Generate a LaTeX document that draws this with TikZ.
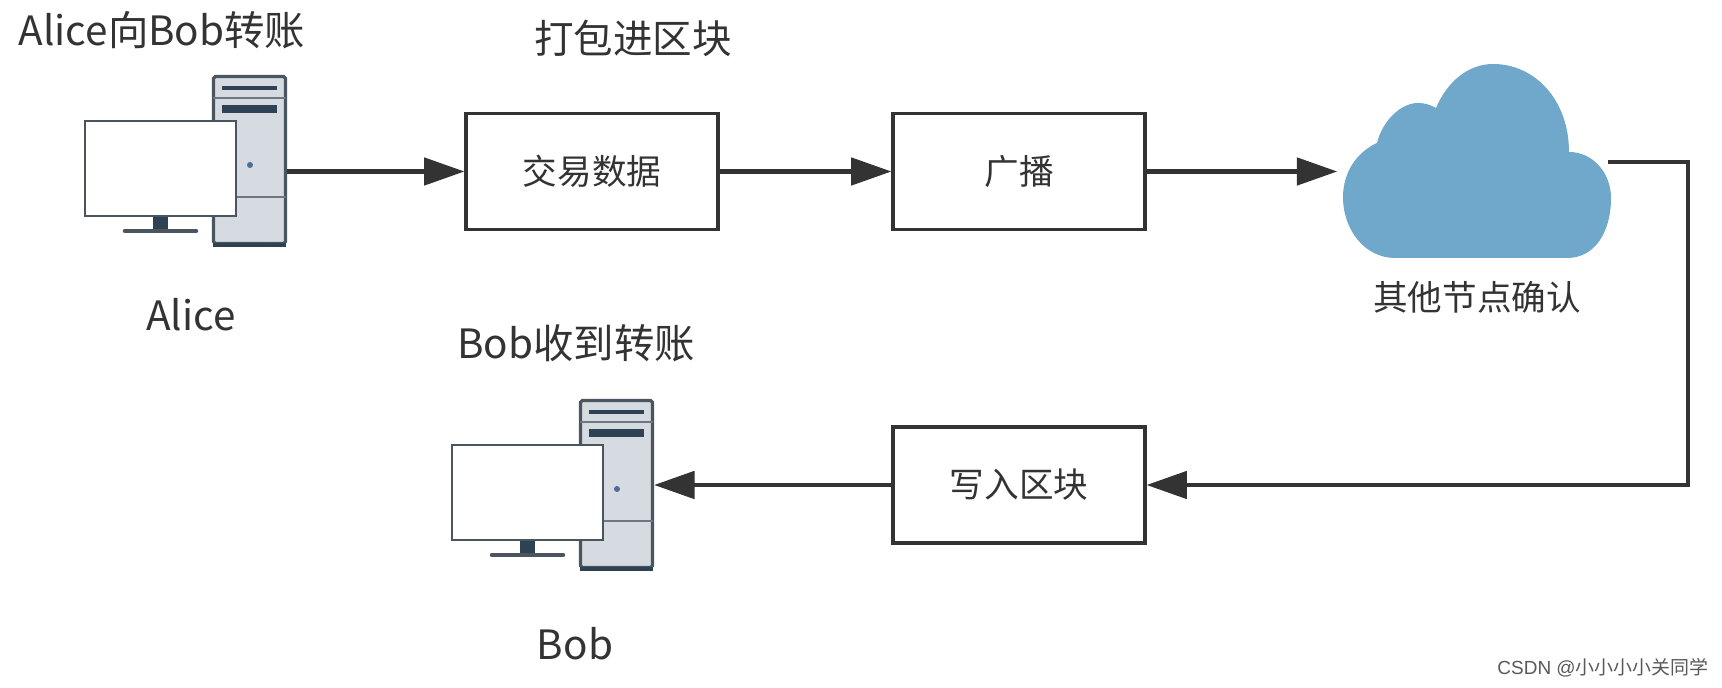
\documentclass[tikz,border=0pt]{standalone}
\usepackage{fontspec}
\setmainfont{Noto Sans CJK SC}
\newfontfamily\markfont{Liberation Sans}
\usetikzlibrary{arrows.meta}
\definecolor{ink}{HTML}{333333}
\definecolor{towerfill}{HTML}{D5DBE1}
\definecolor{slotcol}{HTML}{2F4254}
\definecolor{framecol}{HTML}{4A5560}
\definecolor{dotcol}{HTML}{4A6E96}
\definecolor{cloudcol}{HTML}{6FA8CA}
\tikzset{
	boxnode/.style={draw=ink,line width=2.2pt,minimum width=143pt,minimum height=66pt,inner sep=0pt,font=\fontsize{19.7}{22}\selectfont,text=ink},
	lbl/.style={inner sep=0pt,text=ink,font=\fontsize{23}{26}\selectfont},
	flow/.style={draw=ink,line width=2.4pt,-{Triangle[length=23pt,width=15.5pt]}},
	pc/.pic={
		\node[draw=framecol,fill=towerfill,line width=1.8pt,rounded corners=1pt,minimum width=41pt,minimum height=95pt,inner sep=0pt] (-tower) at (249.5,160) {};
		\draw[framecol!80!white,line width=.8pt] (213,98)--(286,98) (213,197)--(286,197);
		\draw[slotcol,line width=1.8pt] (222,88)--(277,88);
		\draw[slotcol,line width=4pt] (222,109)--(277,109);
		\fill[dotcol] (250,165) circle (3);
		\draw[framecol,line width=1.4pt,fill=white] (85,121) rectangle (236,216);
		\fill[slotcol] (153,217) rectangle (168,230);
		\draw[framecol,line width=2.6pt,line cap=round] (125,231)--(196,231);
		\draw[slotcol,line width=2.6pt] (213,245)--(286,245);
	}
}
\begin{document}
\begin{tikzpicture}[x=0.02cm,y=-0.02cm,line join=miter,>=stealth]
	\useasboundingbox (0,0) rectangle (1722,688);
	% cloud
	\fill[cloudcol] (1395,258) .. controls (1365,258) and (1343,230) .. (1343,197)
		.. controls (1343,172) and (1357,152) .. (1377,143)
		.. controls (1382,122) and (1400,103) .. (1418,103)
		.. controls (1425,103) and (1431,105) .. (1436,108)
		.. controls (1447,82) and (1468,64) .. (1493,64)
		.. controls (1535,64) and (1569,100) .. (1569,152)
		.. controls (1593,152) and (1611,173) .. (1611,198)
		.. controls (1611,232) and (1595,258) .. (1567,258) -- cycle;
	\node[inner sep=0pt,minimum width=158.7pt,minimum height=110pt] (cloud) at (1477,161) {};
	% computers
	\pic (alice) at (0,0) {pc};
	\pic (bob) at (367,324) {pc};
	% boxes
	\node[boxnode] (data) at (592,171.5) {交易数据};
	\node[boxnode] (cast) at (1019,171.5) {广播};
	\node[boxnode] (write) at (1019,485) {写入区块};
	% labels
	\node[lbl] (t1) at (162,30) {Alice向Bob转账};
	\node[lbl,font=\fontsize{22.5}{26}\selectfont] (t2) at (633,38) {打包进区块};
	\node[lbl] (t3) at (576,343) {Bob收到转账};
	\node[lbl] (a) at (191,315) {Alice};
	\node[lbl] (b) at (575,644) {Bob};
	\node[lbl,font=\fontsize{19.7}{22}\selectfont] (c) at (1477,297) {其他节点确认};
	\node[inner sep=0pt,text=black!65,font=\fontsize{10.8}{12}\selectfont] (w) at (1603,668) {{\markfont CSDN @}小小小小关同学};
	% connectors
	\draw[flow] (alice-tower.east|-data.west)--(data.west);
	\draw[flow] (data.east)--(cast.west);
	\draw[flow] (cast.east)--(cloud.west|-cast.east);
	\coordinate (cloudout) at (1608,162);
	\coordinate (corner) at (1688,162);
	\draw[flow] (cloudout)--(corner)--(corner|-write.east)--(write.east);
	\draw[flow] (write.west)--(bob-tower.east|-write.west);
\end{tikzpicture}
\end{document}
